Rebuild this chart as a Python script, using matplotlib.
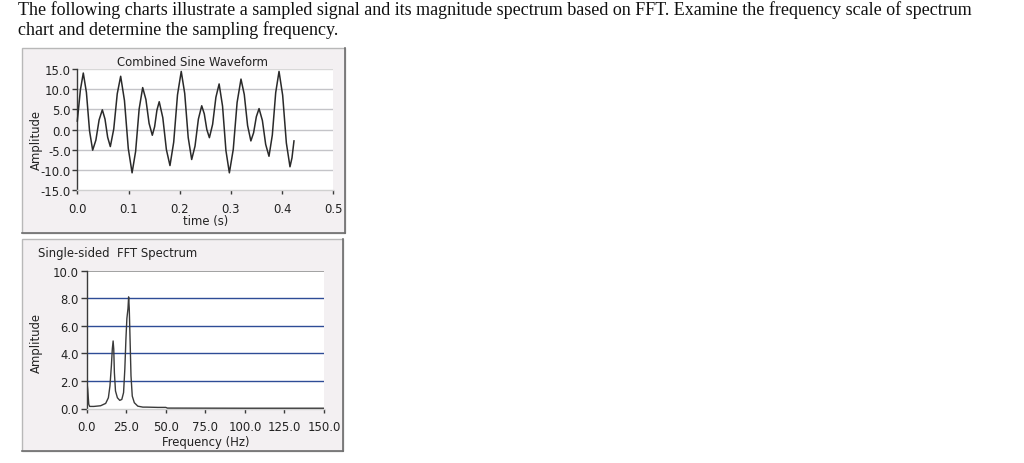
import matplotlib
matplotlib.use("Agg")
import matplotlib.pyplot as plt
from matplotlib.patches import Rectangle
from matplotlib.lines import Line2D

# ---------------- data ----------------
t_wave = [0.0, 0.006, 0.0117, 0.0178, 0.0239, 0.030, 0.0363, 0.0426, 0.0489, 0.0541,
          0.0593, 0.0645, 0.0712, 0.0780, 0.0847, 0.0921, 0.0996, 0.107, 0.1139, 0.1208,
          0.1277, 0.1340, 0.1402, 0.1465, 0.1510, 0.1555, 0.160, 0.167, 0.174, 0.181,
          0.1883, 0.1957, 0.203, 0.2098, 0.2166, 0.2234, 0.2299, 0.2365, 0.243, 0.248,
          0.253, 0.258, 0.2643, 0.2707, 0.277, 0.2837, 0.2903, 0.297, 0.3046, 0.3121,
          0.3197, 0.3261, 0.3326, 0.339, 0.3443, 0.3497, 0.355, 0.3615, 0.3679, 0.3744,
          0.3809, 0.3875, 0.394, 0.4011, 0.4083, 0.4154, 0.4193, 0.4232]
y_wave = [2.1, 9.8, 14.0, 9.2, -0.3, -5.1, -2.6, 2.4, 4.9, 2.6,
          -1.9, -4.2, 0.15, 8.85, 13.2, 7.2, -4.7, -10.7, -5.4, 5.1,
          10.4, 7.45, 1.55, -1.4, 0.7, 4.8, 6.9, 2.95, -4.95, -8.9,
          -3.1, 8.6, 14.4, 8.95, -1.95, -7.4, -4.1, 2.6, 5.9, 3.9,
          0.0, -2.0, 1.3, 8.0, 11.3, 5.8, -5.2, -10.7, -4.9, 6.7,
          12.5, 8.7, 1.0, -2.8, -0.8, 3.2, 5.2, 2.25, -3.65, -6.6,
          -1.35, 9.15, 14.4, 8.5, -3.3, -9.2, -7.0, -2.8]

f_spec = [0.0, 0.64, 1.3, 1.9, 4.5, 8.8, 12.0, 13.7, 14.7, 15.6, 16.2, 16.7, 17.1, 17.5,
          18.2, 19.4, 20.9, 22.2, 23.3, 24.1, 24.8, 25.4, 26.1, 26.5, 26.9, 27.4, 28.0,
          28.8, 30.1, 32.3, 35.5, 38.0, 45.0, 50.0, 51.0, 100.0, 150.0]
a_spec = [2.08, 1.4, 0.3, 0.15, 0.15, 0.2, 0.37, 0.78, 1.64, 3.1, 4.33, 4.9, 4.3, 2.6,
          1.27, 0.78, 0.59, 0.66, 1.15, 2.86, 5.06, 6.53, 7.26, 8.1, 7.26, 5.06, 2.37,
          0.9, 0.42, 0.17, 0.1, 0.1, 0.08, 0.08, 0.03, 0.02, 0.02]

wave_yticks = [-15, -10, -5, 0, 5, 10, 15]
wave_xticks = [0.0, 0.1, 0.2, 0.3, 0.4, 0.5]
spec_yticks = [0, 2, 4, 6, 8, 10]
spec_xticks = [0, 25, 50, 75, 100, 125, 150]

question_lines = [
    "The following charts illustrate a sampled signal and its magnitude spectrum based on FFT. Examine the frequency scale of spectrum",
    "chart and determine the sampling frequency.",
]

# ---------------- figure ----------------
W, H = 1024, 464
fig = plt.figure(figsize=(W / 100, H / 100), dpi=100)
fig.patch.set_facecolor("white")

def fx(x):
    return x / W

def fy(y):
    return 1 - y / H

def box(x0, y0, x1, y1):
    return [fx(x0), fy(y1), fx(x1) - fx(x0), fy(y0) - fy(y1)]

SERIF = ["Liberation Serif", "DejaVu Serif"]
SANS = ["DejaVu Sans"]
FS = 8.4

for i, line in enumerate(question_lines):
    fig.text(fx(18), fy(15 + 20 * i), line, family=SERIF, fontsize=13,
             va="baseline", ha="left", color="#111111")

PANEL_BG = "#F3F0F2"

def panel(x0, y0, x1, y1):
    fig.patches.append(Rectangle((fx(x0), fy(y1)), fx(x1) - fx(x0), fy(y0) - fy(y1),
                                 transform=fig.transFigure, facecolor=PANEL_BG,
                                 edgecolor="#B8B8B8", linewidth=1, zorder=-5))
    fig.lines.append(Line2D([fx(x1), fx(x1)], [fy(y0), fy(y1)], transform=fig.transFigure,
                            color="#6E6E6E", linewidth=1.2, zorder=-4))
    fig.lines.append(Line2D([fx(x0), fx(x1)], [fy(y1), fy(y1)], transform=fig.transFigure,
                            color="#6E6E6E", linewidth=1.2, zorder=-4))

panel(21.5, 49, 344.5, 233.5)
panel(21.5, 240, 343, 452)

TXT = "#222222"

def style_axes(ax, ytick_len, ypad, xpad):
    ax.set_zorder(3)
    ax.set_facecolor("white")
    for s in ["top", "right"]:
        ax.spines[s].set_visible(False)
    ax.spines["left"].set_color("#3A3A3A")
    ax.spines["left"].set_linewidth(1.0)
    ax.spines["bottom"].set_color("#D0D0D0")
    ax.spines["bottom"].set_linewidth(1.0)
    ax.tick_params(axis="y", direction="out", length=ytick_len, width=1, color="#3A3A3A",
                   pad=ypad, labelsize=FS, labelcolor=TXT)
    ax.tick_params(axis="x", direction="out", length=3, width=1, color="#3A3A3A",
                   pad=xpad, labelsize=FS, labelcolor=TXT)
    for lab in ax.get_xticklabels() + ax.get_yticklabels():
        lab.set_family(SANS)

# ---- top: waveform ----
ax1 = fig.add_axes(box(77.3, 70, 333.3, 191.2))
ax1.set_xlim(0, 0.5)
ax1.set_ylim(-15, 15)
for v in wave_yticks[1:-1]:
    ax1.axhline(v, color="#C4C4C8", linewidth=1, zorder=1)
ax1.axhline(15, color="#D8D8D8", linewidth=1, zorder=1)
ax1.plot(t_wave, y_wave, color="#2A2A2A", linewidth=1.1, zorder=3, clip_on=False)
ax1.set_yticks(wave_yticks)
ax1.set_yticklabels([f"{v:.1f}" for v in wave_yticks])
ax1.set_xticks(wave_xticks)
ax1.set_xticklabels([f"{v:.1f}" for v in wave_xticks])
style_axes(ax1, 3.5, 1, 5.5)
fig.text(fx(192.5), fy(65.5), "Combined Sine Waveform", family=SANS, fontsize=FS,
         ha="center", va="baseline", color=TXT)
fig.text(fx(205.3), fy(221.5), "time (s)", family=SANS, fontsize=FS,
         ha="center", va="center", color=TXT)
fig.text(fx(36), fy(140), "Amplitude", family=SANS, fontsize=FS, rotation=90,
         ha="center", va="center", color=TXT)

# ---- bottom: spectrum ----
ax2 = fig.add_axes(box(86.7, 271.7, 324, 409.5))
ax2.set_xlim(0, 150)
ax2.set_ylim(0, 10)
for v in spec_yticks[1:-1]:
    ax2.axhline(v, color="#2E4C96", linewidth=1, zorder=1)
ax2.axhline(10, color="#9A9A9A", linewidth=1.3, zorder=1)
ax2.plot(f_spec, a_spec, color="#3A3A3A", linewidth=1.0, zorder=3)
ax2.set_yticks(spec_yticks)
ax2.set_yticklabels([f"{v:.1f}" for v in spec_yticks])
ax2.set_xticks(spec_xticks)
ax2.set_xticklabels([f"{v:.1f}" for v in spec_xticks])
style_axes(ax2, 4.5, 1, 5)
fig.text(fx(38), fy(257.5), "Single-sided  FFT Spectrum", family=SANS, fontsize=FS,
         ha="left", va="baseline", color=TXT)
fig.text(fx(206), fy(443), "Frequency (Hz)", family=SANS, fontsize=FS,
         ha="center", va="center", color=TXT)
fig.text(fx(36.5), fy(343), "Amplitude", family=SANS, fontsize=FS, rotation=90,
         ha="center", va="center", color=TXT)

fig.savefig("out.png", dpi=100, facecolor="white")
